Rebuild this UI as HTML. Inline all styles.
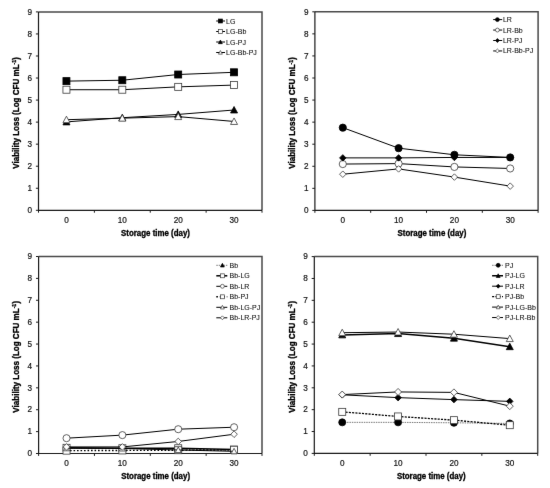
<!DOCTYPE html>
<html><head><meta charset="utf-8"><style>
html,body{margin:0;padding:0;background:#fff;}
svg{display:block;}
.t{font-family:"Liberation Sans", Arial, sans-serif;font-size:8.2px;fill:#111;stroke:#111;stroke-width:0.18px;}
.l{font-family:"Liberation Sans", Arial, sans-serif;font-size:7px;fill:#151515;stroke:#151515;stroke-width:0.1px;}
.b{font-family:"Liberation Sans", Arial, sans-serif;font-size:7.9px;font-weight:bold;fill:#000;stroke:#000;stroke-width:0.3px;}
.sup{font-size:5.1px;} .yt{font-size:8.05px;}
</style></head><body>
<svg width="550" height="488" viewBox="0 0 550 488">
<defs><filter id="bl" x="0" y="0" width="100%" height="100%" color-interpolation-filters="sRGB"><feConvolveMatrix order="3" kernelMatrix="0.0028 0.0470 0.0028 0.0470 0.8008 0.0470 0.0028 0.0470 0.0028" edgeMode="duplicate"/></filter></defs>
<rect width="550" height="488" fill="#fff"/>
<g filter="url(#bl)">
<rect width="550" height="488" fill="#fff"/>
<path d="M38.50,11.90 H262.00 V210.30" fill="none" stroke="#4a4a4a" stroke-width="1.5"/>
<path d="M38.50,11.90 V210.30 H262.00" fill="none" stroke="#1a1a1a" stroke-width="1.2"/>
<path d="M35.90,210.30 H38.50 M35.90,188.26 H38.50 M35.90,166.21 H38.50 M35.90,144.17 H38.50 M35.90,122.12 H38.50 M35.90,100.08 H38.50 M35.90,78.03 H38.50 M35.90,55.99 H38.50 M35.90,33.94 H38.50 M35.90,11.90 H38.50 M38.50,210.30 V212.70 M94.38,210.30 V212.70 M150.25,210.30 V212.70 M206.12,210.30 V212.70 M262.00,210.30 V212.70" stroke="#1a1a1a" stroke-width="1"/>
<text x="32.05" y="213.05" text-anchor="end" class="t">0</text>
<text x="32.05" y="191.01" text-anchor="end" class="t">1</text>
<text x="32.05" y="168.96" text-anchor="end" class="t">2</text>
<text x="32.05" y="146.92" text-anchor="end" class="t">3</text>
<text x="32.05" y="124.87" text-anchor="end" class="t">4</text>
<text x="32.05" y="102.83" text-anchor="end" class="t">5</text>
<text x="32.05" y="80.78" text-anchor="end" class="t">6</text>
<text x="32.05" y="58.74" text-anchor="end" class="t">7</text>
<text x="32.05" y="36.69" text-anchor="end" class="t">8</text>
<text x="32.05" y="14.65" text-anchor="end" class="t">9</text>
<text x="66.44" y="222.80" text-anchor="middle" class="t">0</text>
<text x="122.31" y="222.80" text-anchor="middle" class="t">10</text>
<text x="178.19" y="222.80" text-anchor="middle" class="t">20</text>
<text x="234.06" y="222.80" text-anchor="middle" class="t">30</text>
<text transform="translate(155.50,235.65) scale(1,1.12)" x="0" y="0" text-anchor="middle" class="b">Storage time (day)</text>
<text transform="translate(18.75,113.00) rotate(-90) scale(1,1.12)" text-anchor="middle" class="b yt">Viability Loss (Log CFU mL<tspan dy="-2.3" class="sup">-1</tspan><tspan dy="2.3">)</tspan></text>
<polyline points="66.44,81.12 122.31,80.24 178.19,74.51 234.06,72.30" fill="none" stroke="#000" stroke-width="1.0"/>
<rect x="62.94" y="77.62" width="7.00" height="7.00" fill="#000" stroke="#000" stroke-width="0.8"/>
<rect x="118.81" y="76.74" width="7.00" height="7.00" fill="#000" stroke="#000" stroke-width="0.8"/>
<rect x="174.69" y="71.01" width="7.00" height="7.00" fill="#000" stroke="#000" stroke-width="0.8"/>
<rect x="230.56" y="68.80" width="7.00" height="7.00" fill="#000" stroke="#000" stroke-width="0.8"/>
<polyline points="66.44,89.72 122.31,89.72 178.19,86.85 234.06,85.09" fill="none" stroke="#000" stroke-width="1.0"/>
<rect x="62.94" y="86.22" width="7.00" height="7.00" fill="#fff" stroke="#3a3a3a" stroke-width="0.8"/>
<rect x="118.81" y="86.22" width="7.00" height="7.00" fill="#fff" stroke="#3a3a3a" stroke-width="0.8"/>
<rect x="174.69" y="83.35" width="7.00" height="7.00" fill="#fff" stroke="#3a3a3a" stroke-width="0.8"/>
<rect x="230.56" y="81.59" width="7.00" height="7.00" fill="#fff" stroke="#3a3a3a" stroke-width="0.8"/>
<polyline points="66.44,121.90 122.31,117.71 178.19,114.41 234.06,110.00" fill="none" stroke="#000" stroke-width="1.0"/>
<polygon points="66.44,118.40 69.94,124.88 62.94,124.88" fill="#000" stroke="#000" stroke-width="0.8" stroke-linejoin="miter"/>
<polygon points="122.31,114.21 125.81,120.69 118.81,120.69" fill="#000" stroke="#000" stroke-width="0.8" stroke-linejoin="miter"/>
<polygon points="178.19,110.91 181.69,117.38 174.69,117.38" fill="#000" stroke="#000" stroke-width="0.8" stroke-linejoin="miter"/>
<polygon points="234.06,106.50 237.56,112.97 230.56,112.97" fill="#000" stroke="#000" stroke-width="0.8" stroke-linejoin="miter"/>
<polyline points="66.44,119.70 122.31,118.15 178.19,116.61 234.06,121.46" fill="none" stroke="#000" stroke-width="1.0"/>
<polygon points="66.44,116.20 69.94,122.67 62.94,122.67" fill="#fff" stroke="#3a3a3a" stroke-width="0.8" stroke-linejoin="miter"/>
<polygon points="122.31,114.65 125.81,121.13 118.81,121.13" fill="#fff" stroke="#3a3a3a" stroke-width="0.8" stroke-linejoin="miter"/>
<polygon points="178.19,113.11 181.69,119.59 174.69,119.59" fill="#fff" stroke="#3a3a3a" stroke-width="0.8" stroke-linejoin="miter"/>
<polygon points="234.06,117.96 237.56,124.44 230.56,124.44" fill="#fff" stroke="#3a3a3a" stroke-width="0.8" stroke-linejoin="miter"/>
<polyline points="216.20,21.00 225.00,21.00" fill="none" stroke="#000" stroke-width="1.0"/>
<rect x="218.45" y="19.05" width="3.90" height="3.90" fill="#000" stroke="#000" stroke-width="0.7"/>
<text x="226.10" y="23.50" class="l">LG</text>
<polyline points="216.20,31.50 225.00,31.50" fill="none" stroke="#000" stroke-width="1.0"/>
<rect x="218.45" y="29.55" width="3.90" height="3.90" fill="#fff" stroke="#3a3a3a" stroke-width="0.7"/>
<text x="226.10" y="34.00" class="l">LG-Bb</text>
<polyline points="216.20,42.00 225.00,42.00" fill="none" stroke="#000" stroke-width="1.0"/>
<polygon points="220.40,40.05 222.35,43.66 218.45,43.66" fill="#000" stroke="#000" stroke-width="0.7" stroke-linejoin="miter"/>
<text x="226.10" y="44.50" class="l">LG-PJ</text>
<polyline points="216.20,52.50 225.00,52.50" fill="none" stroke="#000" stroke-width="1.0"/>
<polygon points="220.40,50.55 222.35,54.16 218.45,54.16" fill="#fff" stroke="#3a3a3a" stroke-width="0.7" stroke-linejoin="miter"/>
<text x="226.10" y="55.00" class="l">LG-Bb-PJ</text>
<path d="M314.90,11.80 H538.10 V210.40" fill="none" stroke="#4a4a4a" stroke-width="1.5"/>
<path d="M314.90,11.80 V210.40 H538.10" fill="none" stroke="#1a1a1a" stroke-width="1.2"/>
<path d="M312.30,210.40 H314.90 M312.30,188.33 H314.90 M312.30,166.27 H314.90 M312.30,144.20 H314.90 M312.30,122.13 H314.90 M312.30,100.07 H314.90 M312.30,78.00 H314.90 M312.30,55.93 H314.90 M312.30,33.87 H314.90 M312.30,11.80 H314.90 M314.90,210.40 V212.80 M370.70,210.40 V212.80 M426.50,210.40 V212.80 M482.30,210.40 V212.80 M538.10,210.40 V212.80" stroke="#1a1a1a" stroke-width="1"/>
<text x="308.45" y="213.15" text-anchor="end" class="t">0</text>
<text x="308.45" y="191.08" text-anchor="end" class="t">1</text>
<text x="308.45" y="169.02" text-anchor="end" class="t">2</text>
<text x="308.45" y="146.95" text-anchor="end" class="t">3</text>
<text x="308.45" y="124.88" text-anchor="end" class="t">4</text>
<text x="308.45" y="102.82" text-anchor="end" class="t">5</text>
<text x="308.45" y="80.75" text-anchor="end" class="t">6</text>
<text x="308.45" y="58.68" text-anchor="end" class="t">7</text>
<text x="308.45" y="36.62" text-anchor="end" class="t">8</text>
<text x="308.45" y="14.55" text-anchor="end" class="t">9</text>
<text x="342.80" y="222.90" text-anchor="middle" class="t">0</text>
<text x="398.60" y="222.90" text-anchor="middle" class="t">10</text>
<text x="454.40" y="222.90" text-anchor="middle" class="t">20</text>
<text x="510.20" y="222.90" text-anchor="middle" class="t">30</text>
<text transform="translate(431.90,235.75) scale(1,1.12)" x="0" y="0" text-anchor="middle" class="b">Storage time (day)</text>
<text transform="translate(295.15,113.00) rotate(-90) scale(1,1.12)" text-anchor="middle" class="b yt">Viability Loss (Log CFU mL<tspan dy="-2.3" class="sup">-1</tspan><tspan dy="2.3">)</tspan></text>
<polyline points="342.80,127.65 398.60,148.17 454.40,154.79 510.20,157.44" fill="none" stroke="#000" stroke-width="1.0"/>
<circle cx="342.80" cy="127.65" r="3.60" fill="#000" stroke="#000" stroke-width="0.8"/>
<circle cx="398.60" cy="148.17" r="3.60" fill="#000" stroke="#000" stroke-width="0.8"/>
<circle cx="454.40" cy="154.79" r="3.60" fill="#000" stroke="#000" stroke-width="0.8"/>
<circle cx="510.20" cy="157.44" r="3.60" fill="#000" stroke="#000" stroke-width="0.8"/>
<polyline points="342.80,164.06 398.60,163.62 454.40,166.93 510.20,168.47" fill="none" stroke="#000" stroke-width="1.0"/>
<circle cx="342.80" cy="164.06" r="3.60" fill="#fff" stroke="#3a3a3a" stroke-width="0.8"/>
<circle cx="398.60" cy="163.62" r="3.60" fill="#fff" stroke="#3a3a3a" stroke-width="0.8"/>
<circle cx="454.40" cy="166.93" r="3.60" fill="#fff" stroke="#3a3a3a" stroke-width="0.8"/>
<circle cx="510.20" cy="168.47" r="3.60" fill="#fff" stroke="#3a3a3a" stroke-width="0.8"/>
<polyline points="342.80,157.88 398.60,157.88 454.40,157.44 510.20,157.44" fill="none" stroke="#000" stroke-width="1.0"/>
<polygon points="342.80,154.63 346.05,157.88 342.80,161.13 339.55,157.88" fill="#000" stroke="#000" stroke-width="0.8"/>
<polygon points="398.60,154.63 401.85,157.88 398.60,161.13 395.35,157.88" fill="#000" stroke="#000" stroke-width="0.8"/>
<polygon points="454.40,154.19 457.65,157.44 454.40,160.69 451.15,157.44" fill="#000" stroke="#000" stroke-width="0.8"/>
<polygon points="510.20,154.19 513.45,157.44 510.20,160.69 506.95,157.44" fill="#000" stroke="#000" stroke-width="0.8"/>
<polyline points="342.80,174.21 398.60,168.91 454.40,177.08 510.20,186.13" fill="none" stroke="#000" stroke-width="1.0"/>
<polygon points="342.80,170.96 346.05,174.21 342.80,177.46 339.55,174.21" fill="#fff" stroke="#3a3a3a" stroke-width="0.8"/>
<polygon points="398.60,165.66 401.85,168.91 398.60,172.16 395.35,168.91" fill="#fff" stroke="#3a3a3a" stroke-width="0.8"/>
<polygon points="454.40,173.83 457.65,177.08 454.40,180.33 451.15,177.08" fill="#fff" stroke="#3a3a3a" stroke-width="0.8"/>
<polygon points="510.20,182.88 513.45,186.13 510.20,189.38 506.95,186.13" fill="#fff" stroke="#3a3a3a" stroke-width="0.8"/>
<polyline points="493.20,19.60 502.20,19.60" fill="none" stroke="#000" stroke-width="1.0"/>
<circle cx="497.40" cy="19.60" r="1.95" fill="#000" stroke="#000" stroke-width="0.7"/>
<text x="502.90" y="22.10" class="l">LR</text>
<polyline points="493.20,30.05 502.20,30.05" fill="none" stroke="#000" stroke-width="1.0"/>
<circle cx="497.40" cy="30.05" r="1.95" fill="#fff" stroke="#3a3a3a" stroke-width="0.7"/>
<text x="502.90" y="32.55" class="l">LR-Bb</text>
<polyline points="493.20,40.50 502.20,40.50" fill="none" stroke="#000" stroke-width="1.0"/>
<polygon points="497.40,38.55 499.35,40.50 497.40,42.45 495.45,40.50" fill="#000" stroke="#000" stroke-width="0.7"/>
<text x="502.90" y="43.00" class="l">LR-PJ</text>
<polyline points="493.20,50.95 502.20,50.95" fill="none" stroke="#000" stroke-width="1.0"/>
<polygon points="497.40,49.00 499.35,50.95 497.40,52.90 495.45,50.95" fill="#fff" stroke="#3a3a3a" stroke-width="0.7"/>
<text x="502.90" y="53.45" class="l">LR-Bb-PJ</text>
<path d="M38.60,256.50 H262.00 V453.50" fill="none" stroke="#4a4a4a" stroke-width="1.5"/>
<path d="M38.60,256.50 V453.50 H262.00" fill="none" stroke="#1a1a1a" stroke-width="1.2"/>
<path d="M36.00,453.50 H38.60 M36.00,431.61 H38.60 M36.00,409.72 H38.60 M36.00,387.83 H38.60 M36.00,365.94 H38.60 M36.00,344.06 H38.60 M36.00,322.17 H38.60 M36.00,300.28 H38.60 M36.00,278.39 H38.60 M36.00,256.50 H38.60 M38.60,453.50 V455.90 M94.45,453.50 V455.90 M150.30,453.50 V455.90 M206.15,453.50 V455.90 M262.00,453.50 V455.90" stroke="#1a1a1a" stroke-width="1"/>
<text x="32.15" y="456.25" text-anchor="end" class="t">0</text>
<text x="32.15" y="434.36" text-anchor="end" class="t">1</text>
<text x="32.15" y="412.47" text-anchor="end" class="t">2</text>
<text x="32.15" y="390.58" text-anchor="end" class="t">3</text>
<text x="32.15" y="368.69" text-anchor="end" class="t">4</text>
<text x="32.15" y="346.81" text-anchor="end" class="t">5</text>
<text x="32.15" y="324.92" text-anchor="end" class="t">6</text>
<text x="32.15" y="303.03" text-anchor="end" class="t">7</text>
<text x="32.15" y="281.14" text-anchor="end" class="t">8</text>
<text x="32.15" y="259.25" text-anchor="end" class="t">9</text>
<text x="66.53" y="466.00" text-anchor="middle" class="t">0</text>
<text x="122.38" y="466.00" text-anchor="middle" class="t">10</text>
<text x="178.22" y="466.00" text-anchor="middle" class="t">20</text>
<text x="234.07" y="466.00" text-anchor="middle" class="t">30</text>
<text transform="translate(155.60,478.85) scale(1,1.12)" x="0" y="0" text-anchor="middle" class="b">Storage time (day)</text>
<text transform="translate(18.85,356.90) rotate(-90) scale(1,1.12)" text-anchor="middle" class="b yt">Viability Loss (Log CFU mL<tspan dy="-2.3" class="sup">-1</tspan><tspan dy="2.3">)</tspan></text>
<polyline points="66.53,448.25 122.38,448.47 178.22,449.12 234.07,450.87" fill="none" stroke="#6a6a6a" stroke-width="0.9" stroke-dasharray="1.5,0.9"/>
<polygon points="66.53,445.25 69.53,450.80 63.53,450.80" fill="#000" stroke="#000" stroke-width="0.8" stroke-linejoin="miter"/>
<polygon points="122.38,445.47 125.38,451.02 119.38,451.02" fill="#000" stroke="#000" stroke-width="0.8" stroke-linejoin="miter"/>
<polygon points="178.22,446.12 181.22,451.67 175.22,451.67" fill="#000" stroke="#000" stroke-width="0.8" stroke-linejoin="miter"/>
<polygon points="234.07,447.87 237.07,453.42 231.07,453.42" fill="#000" stroke="#000" stroke-width="0.8" stroke-linejoin="miter"/>
<polyline points="66.53,447.81 122.38,448.25 178.22,448.25 234.07,449.56" fill="none" stroke="#000" stroke-width="1.5"/>
<rect x="63.03" y="444.31" width="7.00" height="7.00" fill="#fff" stroke="#3a3a3a" stroke-width="0.8"/>
<rect x="118.88" y="444.75" width="7.00" height="7.00" fill="#fff" stroke="#3a3a3a" stroke-width="0.8"/>
<rect x="174.72" y="444.75" width="7.00" height="7.00" fill="#fff" stroke="#3a3a3a" stroke-width="0.8"/>
<rect x="230.57" y="446.06" width="7.00" height="7.00" fill="#fff" stroke="#3a3a3a" stroke-width="0.8"/>
<polyline points="66.53,438.18 122.38,435.11 178.22,429.20 234.07,427.23" fill="none" stroke="#000" stroke-width="1.0"/>
<circle cx="66.53" cy="438.18" r="3.55" fill="#fff" stroke="#3a3a3a" stroke-width="0.8"/>
<circle cx="122.38" cy="435.11" r="3.55" fill="#fff" stroke="#3a3a3a" stroke-width="0.8"/>
<circle cx="178.22" cy="429.20" r="3.55" fill="#fff" stroke="#3a3a3a" stroke-width="0.8"/>
<circle cx="234.07" cy="427.23" r="3.55" fill="#fff" stroke="#3a3a3a" stroke-width="0.8"/>
<polyline points="66.53,450.65 122.38,450.44 178.22,450.22 234.07,449.78" fill="none" stroke="#000" stroke-width="1.4" stroke-dasharray="1.6,1.9"/>
<rect x="63.03" y="447.15" width="7.00" height="7.00" fill="#fff" stroke="#3a3a3a" stroke-width="0.8"/>
<rect x="118.88" y="446.94" width="7.00" height="7.00" fill="#fff" stroke="#3a3a3a" stroke-width="0.8"/>
<rect x="174.72" y="446.72" width="7.00" height="7.00" fill="#fff" stroke="#3a3a3a" stroke-width="0.8"/>
<rect x="230.57" y="446.28" width="7.00" height="7.00" fill="#fff" stroke="#3a3a3a" stroke-width="0.8"/>
<polyline points="66.53,448.25 122.38,448.47 178.22,450.00 234.07,451.31" fill="none" stroke="#000" stroke-width="1.0"/>
<polygon points="66.53,445.25 69.53,450.80 63.53,450.80" fill="#fff" stroke="#3a3a3a" stroke-width="0.8" stroke-linejoin="miter"/>
<polygon points="122.38,445.47 125.38,451.02 119.38,451.02" fill="#fff" stroke="#3a3a3a" stroke-width="0.8" stroke-linejoin="miter"/>
<polygon points="178.22,447.00 181.22,452.55 175.22,452.55" fill="#fff" stroke="#3a3a3a" stroke-width="0.8" stroke-linejoin="miter"/>
<polygon points="234.07,448.31 237.07,453.86 231.07,453.86" fill="#fff" stroke="#3a3a3a" stroke-width="0.8" stroke-linejoin="miter"/>
<polyline points="66.53,446.93 122.38,446.93 178.22,441.46 234.07,434.24" fill="none" stroke="#000" stroke-width="1.0"/>
<polygon points="66.53,443.63 69.83,446.93 66.53,450.23 63.23,446.93" fill="#fff" stroke="#3a3a3a" stroke-width="0.8"/>
<polygon points="122.38,443.63 125.67,446.93 122.38,450.23 119.08,446.93" fill="#fff" stroke="#3a3a3a" stroke-width="0.8"/>
<polygon points="178.22,438.16 181.53,441.46 178.22,444.76 174.92,441.46" fill="#fff" stroke="#3a3a3a" stroke-width="0.8"/>
<polygon points="234.07,430.94 237.38,434.24 234.07,437.54 230.77,434.24" fill="#fff" stroke="#3a3a3a" stroke-width="0.8"/>
<polyline points="216.30,265.30 227.30,265.30" fill="none" stroke="#6a6a6a" stroke-width="0.9" stroke-dasharray="1.5,0.9"/>
<polygon points="222.40,263.35 224.35,266.96 220.45,266.96" fill="#000" stroke="#000" stroke-width="0.7" stroke-linejoin="miter"/>
<text x="229.50" y="267.80" class="l">Bb</text>
<polyline points="216.30,275.80 227.30,275.80" fill="none" stroke="#000" stroke-width="1.5"/>
<rect x="220.45" y="273.85" width="3.90" height="3.90" fill="#fff" stroke="#3a3a3a" stroke-width="0.7"/>
<text x="229.50" y="278.30" class="l">Bb-LG</text>
<polyline points="216.30,286.30 227.30,286.30" fill="none" stroke="#000" stroke-width="1.0"/>
<circle cx="222.40" cy="286.30" r="1.95" fill="#fff" stroke="#3a3a3a" stroke-width="0.7"/>
<text x="229.50" y="288.80" class="l">Bb-LR</text>
<polyline points="216.30,296.80 227.30,296.80" fill="none" stroke="#000" stroke-width="1.4" stroke-dasharray="1.6,1.9"/>
<rect x="220.45" y="294.85" width="3.90" height="3.90" fill="#fff" stroke="#3a3a3a" stroke-width="0.7"/>
<text x="229.50" y="299.30" class="l">Bb-PJ</text>
<polyline points="216.30,307.30 227.30,307.30" fill="none" stroke="#000" stroke-width="1.0"/>
<polygon points="222.40,305.35 224.35,308.96 220.45,308.96" fill="#fff" stroke="#3a3a3a" stroke-width="0.7" stroke-linejoin="miter"/>
<text x="229.50" y="309.80" class="l">Bb-LG-PJ</text>
<polyline points="216.30,317.80 227.30,317.80" fill="none" stroke="#000" stroke-width="1.0"/>
<polygon points="222.40,315.85 224.35,317.80 222.40,319.75 220.45,317.80" fill="#fff" stroke="#3a3a3a" stroke-width="0.7"/>
<text x="229.50" y="320.30" class="l">Bb-LR-PJ</text>
<path d="M314.30,256.60 H537.70 V453.40" fill="none" stroke="#4a4a4a" stroke-width="1.5"/>
<path d="M314.30,256.60 V453.40 H537.70" fill="none" stroke="#1a1a1a" stroke-width="1.2"/>
<path d="M311.70,453.40 H314.30 M311.70,431.53 H314.30 M311.70,409.67 H314.30 M311.70,387.80 H314.30 M311.70,365.93 H314.30 M311.70,344.07 H314.30 M311.70,322.20 H314.30 M311.70,300.33 H314.30 M311.70,278.47 H314.30 M311.70,256.60 H314.30 M314.30,453.40 V455.80 M370.15,453.40 V455.80 M426.00,453.40 V455.80 M481.85,453.40 V455.80 M537.70,453.40 V455.80" stroke="#1a1a1a" stroke-width="1"/>
<text x="307.85" y="456.15" text-anchor="end" class="t">0</text>
<text x="307.85" y="434.28" text-anchor="end" class="t">1</text>
<text x="307.85" y="412.42" text-anchor="end" class="t">2</text>
<text x="307.85" y="390.55" text-anchor="end" class="t">3</text>
<text x="307.85" y="368.68" text-anchor="end" class="t">4</text>
<text x="307.85" y="346.82" text-anchor="end" class="t">5</text>
<text x="307.85" y="324.95" text-anchor="end" class="t">6</text>
<text x="307.85" y="303.08" text-anchor="end" class="t">7</text>
<text x="307.85" y="281.22" text-anchor="end" class="t">8</text>
<text x="307.85" y="259.35" text-anchor="end" class="t">9</text>
<text x="342.23" y="465.90" text-anchor="middle" class="t">0</text>
<text x="398.08" y="465.90" text-anchor="middle" class="t">10</text>
<text x="453.93" y="465.90" text-anchor="middle" class="t">20</text>
<text x="509.78" y="465.90" text-anchor="middle" class="t">30</text>
<text transform="translate(431.30,478.75) scale(1,1.12)" x="0" y="0" text-anchor="middle" class="b">Storage time (day)</text>
<text transform="translate(294.55,356.90) rotate(-90) scale(1,1.12)" text-anchor="middle" class="b yt">Viability Loss (Log CFU mL<tspan dy="-2.3" class="sup">-1</tspan><tspan dy="2.3">)</tspan></text>
<polyline points="342.23,422.35 398.08,422.35 453.93,422.79 509.78,423.44" fill="none" stroke="#6a6a6a" stroke-width="0.9" stroke-dasharray="1.5,0.9"/>
<circle cx="342.23" cy="422.35" r="3.50" fill="#000" stroke="#000" stroke-width="0.8"/>
<circle cx="398.08" cy="422.35" r="3.50" fill="#000" stroke="#000" stroke-width="0.8"/>
<circle cx="453.93" cy="422.79" r="3.50" fill="#000" stroke="#000" stroke-width="0.8"/>
<circle cx="509.78" cy="423.44" r="3.50" fill="#000" stroke="#000" stroke-width="0.8"/>
<polyline points="342.23,334.88 398.08,333.57 453.93,338.16 509.78,346.69" fill="none" stroke="#000" stroke-width="1.5"/>
<polygon points="342.23,331.38 345.73,337.86 338.73,337.86" fill="#000" stroke="#000" stroke-width="0.8" stroke-linejoin="miter"/>
<polygon points="398.08,330.07 401.58,336.55 394.58,336.55" fill="#000" stroke="#000" stroke-width="0.8" stroke-linejoin="miter"/>
<polygon points="453.93,334.66 457.43,341.14 450.43,341.14" fill="#000" stroke="#000" stroke-width="0.8" stroke-linejoin="miter"/>
<polygon points="509.78,343.19 513.28,349.67 506.28,349.67" fill="#000" stroke="#000" stroke-width="0.8" stroke-linejoin="miter"/>
<polyline points="342.23,394.80 398.08,397.64 453.93,399.61 509.78,401.36" fill="none" stroke="#000" stroke-width="1.0"/>
<polygon points="342.23,391.55 345.48,394.80 342.23,398.05 338.98,394.80" fill="#000" stroke="#000" stroke-width="0.8"/>
<polygon points="398.08,394.39 401.33,397.64 398.08,400.89 394.83,397.64" fill="#000" stroke="#000" stroke-width="0.8"/>
<polygon points="453.93,396.36 457.18,399.61 453.93,402.86 450.68,399.61" fill="#000" stroke="#000" stroke-width="0.8"/>
<polygon points="509.78,398.11 513.03,401.36 509.78,404.61 506.53,401.36" fill="#000" stroke="#000" stroke-width="0.8"/>
<polyline points="342.23,411.85 398.08,416.45 453.93,420.16 509.78,425.19" fill="none" stroke="#000" stroke-width="1.3" stroke-dasharray="2.1,1.2"/>
<rect x="338.73" y="408.35" width="7.00" height="7.00" fill="#fff" stroke="#3a3a3a" stroke-width="0.8"/>
<rect x="394.58" y="412.95" width="7.00" height="7.00" fill="#fff" stroke="#3a3a3a" stroke-width="0.8"/>
<rect x="450.43" y="416.66" width="7.00" height="7.00" fill="#fff" stroke="#3a3a3a" stroke-width="0.8"/>
<rect x="506.28" y="421.69" width="7.00" height="7.00" fill="#fff" stroke="#3a3a3a" stroke-width="0.8"/>
<polyline points="342.23,332.70 398.08,332.04 453.93,334.23 509.78,338.60" fill="none" stroke="#000" stroke-width="1.0"/>
<polygon points="342.23,329.20 345.73,335.67 338.73,335.67" fill="#fff" stroke="#3a3a3a" stroke-width="0.8" stroke-linejoin="miter"/>
<polygon points="398.08,328.54 401.58,335.02 394.58,335.02" fill="#fff" stroke="#3a3a3a" stroke-width="0.8" stroke-linejoin="miter"/>
<polygon points="453.93,330.73 457.43,337.20 450.43,337.20" fill="#fff" stroke="#3a3a3a" stroke-width="0.8" stroke-linejoin="miter"/>
<polygon points="509.78,335.10 513.28,341.58 506.28,341.58" fill="#fff" stroke="#3a3a3a" stroke-width="0.8" stroke-linejoin="miter"/>
<polyline points="342.23,394.58 398.08,391.95 453.93,392.39 509.78,406.17" fill="none" stroke="#000" stroke-width="1.0"/>
<polygon points="342.23,391.08 345.73,394.58 342.23,398.08 338.73,394.58" fill="#fff" stroke="#3a3a3a" stroke-width="0.8"/>
<polygon points="398.08,388.45 401.58,391.95 398.08,395.45 394.58,391.95" fill="#fff" stroke="#3a3a3a" stroke-width="0.8"/>
<polygon points="453.93,388.89 457.43,392.39 453.93,395.89 450.43,392.39" fill="#fff" stroke="#3a3a3a" stroke-width="0.8"/>
<polygon points="509.78,402.67 513.28,406.17 509.78,409.67 506.28,406.17" fill="#fff" stroke="#3a3a3a" stroke-width="0.8"/>
<polyline points="492.10,265.30 503.00,265.30" fill="none" stroke="#6a6a6a" stroke-width="0.9" stroke-dasharray="1.5,0.9"/>
<circle cx="498.20" cy="265.30" r="1.95" fill="#000" stroke="#000" stroke-width="0.7"/>
<text x="505.10" y="267.80" class="l">PJ</text>
<polyline points="492.10,275.75 503.00,275.75" fill="none" stroke="#000" stroke-width="1.5"/>
<polygon points="498.20,273.80 500.15,277.41 496.25,277.41" fill="#000" stroke="#000" stroke-width="0.7" stroke-linejoin="miter"/>
<text x="505.10" y="278.25" class="l">PJ-LG</text>
<polyline points="492.10,286.20 503.00,286.20" fill="none" stroke="#000" stroke-width="1.0"/>
<polygon points="498.20,284.25 500.15,286.20 498.20,288.15 496.25,286.20" fill="#000" stroke="#000" stroke-width="0.7"/>
<text x="505.10" y="288.70" class="l">PJ-LR</text>
<polyline points="492.10,296.65 503.00,296.65" fill="none" stroke="#000" stroke-width="1.3" stroke-dasharray="2.1,1.2"/>
<rect x="496.25" y="294.70" width="3.90" height="3.90" fill="#fff" stroke="#3a3a3a" stroke-width="0.7"/>
<text x="505.10" y="299.15" class="l">PJ-Bb</text>
<polyline points="492.10,307.10 503.00,307.10" fill="none" stroke="#000" stroke-width="1.0"/>
<polygon points="498.20,305.15 500.15,308.76 496.25,308.76" fill="#fff" stroke="#3a3a3a" stroke-width="0.7" stroke-linejoin="miter"/>
<text x="505.10" y="309.60" class="l">PJ-LG-Bb</text>
<polyline points="492.10,317.55 503.00,317.55" fill="none" stroke="#000" stroke-width="1.0"/>
<polygon points="498.20,315.60 500.15,317.55 498.20,319.50 496.25,317.55" fill="#fff" stroke="#3a3a3a" stroke-width="0.7"/>
<text x="505.10" y="320.05" class="l">PJ-LR-Bb</text>
</g>
</svg>
</body></html>
